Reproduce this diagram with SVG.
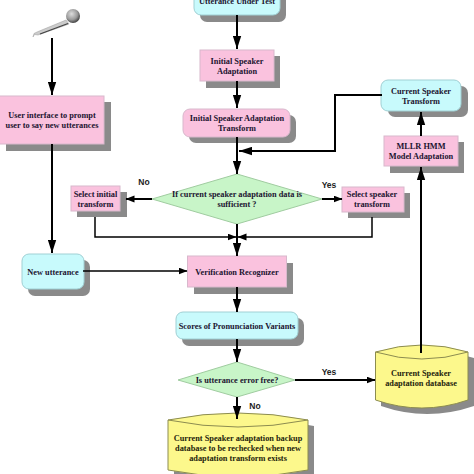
<svg xmlns="http://www.w3.org/2000/svg" width="474" height="474" viewBox="0 0 474 474">
<defs>
<marker id="a" markerUnits="userSpaceOnUse" markerWidth="14" markerHeight="9" refX="13" refY="4.500" orient="auto"><path d="M0 0.300L13 4.500L0 8.700Z" fill="#000"/></marker>
<marker id="s" markerUnits="userSpaceOnUse" markerWidth="10" markerHeight="8" refX="8.500" refY="3.500" orient="auto"><path d="M0 0L9 3.500L0 7Z" fill="#000"/></marker>
<radialGradient id="mic" cx=".4" cy=".35" r=".7"><stop offset="0" stop-color="#ddd"/><stop offset=".6" stop-color="#999"/><stop offset="1" stop-color="#333"/></radialGradient>
</defs>
<style>
text{font-family:"Liberation Serif","Times New Roman",serif;font-weight:bold;font-size:8.300px;text-anchor:middle;fill:#1c1430}
.lab{font-family:"Liberation Sans",Arial,sans-serif;fill:#222;font-size:8.500px}
.dark{fill:#24240c}
.sh{fill:#8a8a8a}
.p{fill:#fac2de;stroke:#d8b8cc;stroke-width:1}
.c{fill:#c8fafc;stroke:#a0d0d4;stroke-width:1}
.g{fill:#c8f5c8;stroke:#a0cca0;stroke-width:1}
.y{fill:#fcf88c;stroke:#8c8c50;stroke-width:1}
.l{fill:none;stroke:#000;stroke-width:2}
.t{fill:none;stroke:#000;stroke-width:1.500}
</style>
<g id="microphone">
<path d="M33 37L34 33.500L37 32L66 20L69 24L38 35L34.500 34.500Z" fill="#ccc" stroke="#999" stroke-width=".5"/>
<path d="M40 34L68 23.500" stroke="#444" stroke-width="1.300" fill="none"/>
<circle cx="73" cy="16" r="7" fill="url(#mic)"/>
</g>
<g id="utterance-under-test"><rect class="sh" x="200" y="-20" width="86" height="42" rx="7"/><rect class="c" x="194" y="-26" width="86" height="41" rx="7"/><text x="237" y="4">Utterance Under Test</text></g>
<g id="initial-adaptation"><rect class="sh" x="206" y="56" width="74" height="32"/><rect class="p" x="200" y="50" width="74" height="31"/><text x="237" y="64">Initial Speaker</text><text x="237" y="74">Adaptation</text></g>
<g id="adaptation-transform"><rect class="sh" x="189" y="115" width="107" height="28" rx="7"/><rect class="p" x="183" y="109" width="107" height="28" rx="7"/><text x="237" y="121">Initial Speaker Adaptation</text><text x="237" y="131">Transform</text></g>
<g id="sufficient"><path class="g" d="M152 199L237 174L322 199L237 224Z"/><text x="237" y="197">If current speaker adaptation data is</text><text x="237" y="207">sufficient ?</text></g>
<g id="select-initial"><rect class="sh" x="77" y="192" width="50" height="25"/><rect class="p" x="71" y="186" width="49" height="25"/><text x="95.500" y="197">Select initial</text><text x="95.500" y="207">transform</text></g>
<g id="select-speaker"><rect class="sh" x="348" y="193" width="62" height="25"/><rect class="p" x="342" y="187" width="62" height="25"/><text x="372" y="197">Select speaker</text><text x="372" y="207">transform</text></g>
<g id="user-interface"><rect class="sh" x="6" y="102" width="105" height="49"/><rect class="p" x="-1" y="96" width="105" height="48"/><text x="52" y="118">User interface to prompt</text><text x="52" y="128">user to say new utterances</text></g>
<g id="current-transform"><rect class="sh" x="388" y="86" width="80" height="31" rx="7"/><rect class="c" x="381" y="80" width="80" height="31" rx="7"/><text x="421" y="93.500">Current Speaker</text><text x="421" y="103.500">Transform</text></g>
<g id="mllr"><rect class="sh" x="390" y="142" width="74" height="31"/><rect class="p" x="384" y="136" width="74" height="30"/><text x="421" y="149">MLLR HMM</text><text x="421" y="159">Model Adaptation</text></g>
<g id="new-utterance"><rect class="sh" x="28" y="260" width="62" height="36" rx="7"/><rect class="c" x="22" y="254" width="62" height="35" rx="7"/><text x="53" y="275">New utterance</text></g>
<g id="verification"><rect class="sh" x="194" y="263" width="99" height="31"/><rect class="p" x="187.500" y="256" width="99" height="31"/><text x="237" y="275">Verification Recognizer</text></g>
<g id="scores"><rect class="sh" x="182" y="318" width="122" height="28" rx="7"/><rect class="c" x="176" y="312" width="122" height="27" rx="7"/><text x="237" y="329">Scores of Pronunciation Variants</text></g>
<g id="error-free"><path class="g" d="M178 380L237 362L295 380L237 397Z"/><text x="237" y="383">Is utterance error free?</text></g>
<g id="current-database"><path class="sh" d="M381 358Q427 344 474 358V406Q427 422 381 406Z"/><path class="y" d="M375.500 352Q422 338 468 352V400Q422 416 375.500 400Z"/><path class="y" d="M375.500 352Q422 366 468 352" fill="none"/><text class="dark" x="421" y="375.500">Current Speaker</text><text class="dark" x="421" y="385.500">adaptation database</text></g>
<g id="backup-database"><path class="sh" d="M174 426Q240 412 314 426V490H174Z"/><path class="y" d="M168 420Q238 406 308 420V470Q238 484 168 470Z"/><path class="y" d="M168 420Q238 434 308 420" fill="none"/><text class="dark" x="238" y="441">Current Speaker adaptation backup</text><text class="dark" x="238" y="451">database to be rechecked when new</text><text class="dark" x="238" y="461">adaptation transform exists</text></g>
<g id="connectors">
<path class="l" d="M237 15V49" marker-end="url(#a)"/>
<path class="l" d="M237 81V108" marker-end="url(#a)"/>
<path class="l" d="M237 137V174" marker-end="url(#a)"/>
<path class="l" d="M52 38V95" marker-end="url(#a)"/>
<path class="l" d="M52 144V253" marker-end="url(#a)"/>
<path class="l" d="M382 95H335V151H239" marker-end="url(#a)"/>
<path class="l" d="M421 136V112" marker-end="url(#a)"/>
<path class="l" d="M421 353V167" marker-end="url(#a)"/>
<path class="l" d="M152 199H126" marker-end="url(#s)"/>
<path class="l" d="M322 199H342" marker-end="url(#s)"/>
<path class="t" d="M95 217V237H236" marker-end="url(#s)"/>
<path class="t" d="M372 217V237H238" marker-end="url(#s)"/>
<path class="l" d="M237 224V256" marker-end="url(#a)"/>
<path class="t" d="M83 271H187" marker-end="url(#s)"/>
<path class="l" d="M237 287V312" marker-end="url(#a)"/>
<path class="l" d="M237 339V362" marker-end="url(#a)"/>
<path class="l" d="M237 397V419" marker-end="url(#a)"/>
<path class="l" d="M295 380H375" marker-end="url(#s)"/>
</g>
<g id="labels"><text class="lab" x="144" y="185">No</text><text class="lab" x="329" y="188">Yes</text><text class="lab" x="329" y="375">Yes</text><text class="lab" x="255" y="409">No</text></g>
</svg>
